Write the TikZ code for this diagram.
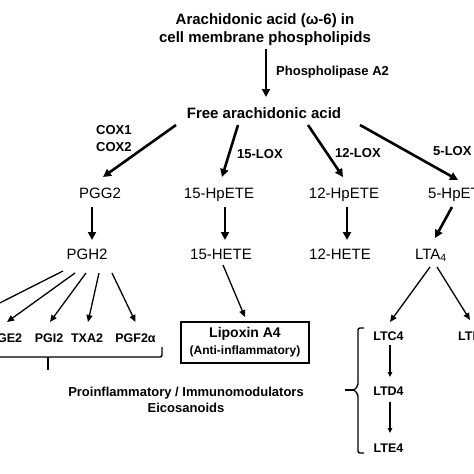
\documentclass[tikz,border=0pt]{standalone}
\usepackage{fontspec}
\setmainfont{Liberation Sans}
\usetikzlibrary{arrows.meta,calc}
\begin{document}
\begin{tikzpicture}[x=1pt,y=-1pt,
  ttl/.style={anchor=base,inner sep=0pt,font=\fontsize{15}{18}\selectfont\bfseries},
  enz/.style={anchor=base west,inner sep=0pt,font=\fontsize{13}{17}\selectfont\bfseries},
  mid/.style={anchor=base,inner sep=0pt,font=\fontsize{15}{18}\selectfont},
  prod/.style={anchor=base,inner sep=0pt,font=\fontsize{12.5}{16}\selectfont\bfseries},
  note/.style={anchor=base,inner sep=0pt,font=\fontsize{13}{17}\selectfont\bfseries},
  big/.style={line width=2.6pt,-{Triangle[length=8pt,width=8pt]}},
  thin/.style={line width=1.3pt,-{Triangle[length=7pt,width=6pt]}},
  fine/.style={line width=1.1pt,-{Triangle[length=5pt,width=4.5pt]}},
  brk/.style={line width=1.4pt,rounded corners=2pt}
]
\useasboundingbox (0,0) rectangle (474,474);
\fill[white] (0,0) rectangle (474,474);
\clip (0,0) rectangle (474,474);

% texts
\node[ttl] (title1) at (265,24) {Arachidonic acid (ω-6) in};
\node[ttl] (title2) at (265,42) {cell membrane phospholipids};
\node[enz] (pla2) at (276,75) {Phospholipase A2};
\node[ttl] (free) at (264,118) {Free arachidonic acid};
\node[enz] (cox1) at (96,134) {COX1};
\node[enz] (cox2) at (96,151) {COX2};
\node[enz] (lox15) at (237,158) {15-LOX};
\node[enz] (lox12) at (335,157) {12-LOX};
\node[enz] (lox5) at (433,155) {5-LOX};

\node[mid] (pgg2) at (100,198) {PGG2};
\node[mid] (hpete15) at (219,198) {15-HpETE};
\node[mid] (hpete12) at (344,198) {12-HpETE};
\node[mid] (hpete5) at (459,198) {5-HpETE};

\node[mid] (pgh2) at (87,259) {PGH2};
\node[mid] (hete15) at (221,259) {15-HETE};
\node[mid] (hete12) at (340,259) {12-HETE};
\node[mid] (lta4) at (431,259) {LTA\textsubscript{4}};

\node[prod] (pge2) at (5.5,342) {PGE2};
\node[prod] (pgi2) at (49,342) {PGI2};
\node[prod] (txa2) at (87,342) {TXA2};
\node[prod] (pgf2a) at (135.5,342) {PGF2α};

\node[draw,line width=1.8pt,minimum width=128pt,minimum height=41pt,inner sep=0pt,
      align=center,font=\fontsize{14}{17}\selectfont\bfseries] (lipoxin) at (245,342.5)
      {Lipoxin A4\\{\fontsize{12}{17}\selectfont (Anti-inflammatory)}};

\node[note] (proinf) at (186,396) {Proinflammatory / Immunomodulators};
\node[note] (eico) at (186,412) {Eicosanoids};

\node[prod] (ltc4) at (388.5,340) {LTC4};
\node[prod] (ltd4) at (388.5,395.5) {LTD4};
\node[prod] (lte4) at (388.5,452) {LTE4};
\node[prod,anchor=base west] (ltb4) at (458,340) {LTB4};
\coordinate (pgd2) at (-20,313);

% connectors
\draw[big] ($(title2.base)+(1,7)$) -- ($(free.base)+(2,-21)$);
\draw[big] ($(free.base)+(-88,7)$) -- ($(pgg2.base)+(3,-21)$);
\draw[big] ($(free.base)+(-26,7)$) -- ($(hpete15.base)+(3,-21)$);
\draw[big] ($(free.base)+(44,7)$) -- ($(hpete12.base)+(-1,-21)$);
\draw[big] ($(free.base)+(96,7)$) -- ($(hpete5.base)+(-1,-18)$);

\draw[big] ($(pgg2.base)+(-8,9)$) -- ($(pgh2.base)+(5,-19)$);
\draw[big] ($(hpete15.base)+(6,9)$) -- ($(hete15.base)+(4,-19)$);
\draw[big] ($(hpete12.base)+(3,9)$) -- ($(hete12.base)+(7,-19)$);
\draw[big] ($(hpete5.base)+(-7,9)$) -- ($(lta4.base)+(4,-21)$);

\draw[thin] ($(pgh2.base)+(-24,12)$) -- (pgd2);
\draw[thin] ($(pgh2.base)+(-12,14)$) -- ($(pge2.base)+(1.5,-20)$);
\draw[thin] ($(pgh2.base)+(-1,14)$) -- ($(pgi2.base)+(1,-20)$);
\draw[thin] ($(pgh2.base)+(12,14)$) -- ($(txa2.base)+(1,-20)$);
\draw[thin] ($(pgh2.base)+(25,14)$) -- ($(pgf2a.base)+(0,-20)$);

\draw[thin] ($(hete15.base)+(2,6)$) -- ($(lipoxin.north)+(0,-4)$);

\draw[thin] ($(lta4.base)+(-1,8)$) -- ($(ltc4.base)+(1.5,-18)$);
\draw[thin] ($(lta4.base)+(6,8)$) -- ($(ltb4.base west)+(12,-20)$);
\draw[fine] ($(ltc4.base)+(1.5,5)$) -- ($(ltd4.base)+(1.5,-18.5)$);
\draw[fine] ($(ltd4.base)+(1.5,6.5)$) -- ($(lte4.base)+(1.5,-19)$);

% brackets
\draw[brk] (-3,357) -- (162,357) -- (162,347);
\draw[line width=1.6pt] (48,357) -- (48,370);
\draw[brk] (364,328) -- (358,328) -- (358,386) -- (354,390);
\draw[brk] (354,390) -- (358,394) -- (358,453) -- (364,453);
\draw[line width=1.4pt] (345,390) -- (355,390);
\end{tikzpicture}
\end{document}
